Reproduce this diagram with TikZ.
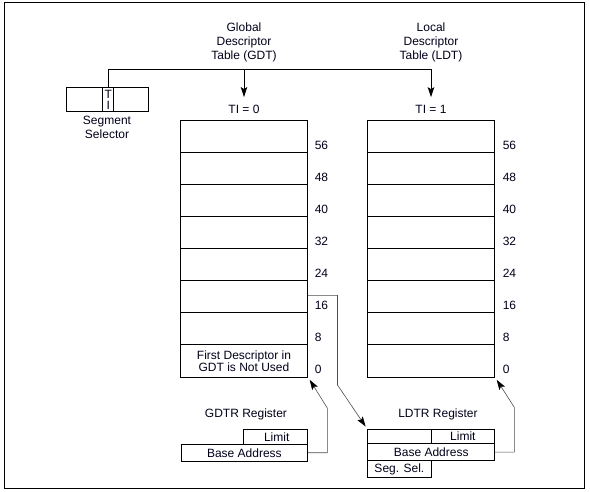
\documentclass[tikz,border=0pt]{standalone}
\usepackage{fontspec}
\setmainfont{Liberation Sans}
\usetikzlibrary{arrows.meta,positioning,calc}
\begin{document}
\begin{tikzpicture}[x=1pt,y=-1pt,
  every node/.style={font=\fontsize{12}{14}\selectfont, text=black!90!blue},
  box/.style={draw, line width=0.8pt, minimum width=127pt, minimum height=32pt, inner sep=0pt, anchor=north west},
  reg/.style={draw, line width=0.8pt, inner sep=0pt, anchor=north west},
  lbl/.style={anchor=west, inner sep=1pt},
  arr/.style={-{Stealth[length=10pt,width=6.5pt,inset=2pt,color=black]}},
  link/.style={line width=0.6pt, draw=black!70}
]
\useasboundingbox (0,0) rectangle (590,492);
\draw[line width=0.8pt] (4.3,2.7) rectangle (584,488.3);

% titles
\node[align=center] (gdttitle) at (244,42) {Global\\Descriptor\\Table (GDT)};
\node[align=center] (ldttitle) at (431,42) {Local\\Descriptor\\Table (LDT)};
\node[inner sep=7.5pt] (gdtlbl) at (244,109) {TI = 0};
\node[inner sep=7.5pt] (ldtlbl) at (431,109) {TI = 1};

% segment selector
\node[reg, minimum width=82pt, minimum height=24pt] (seg) at (66,87.3) {};
\node[reg, minimum width=11pt, minimum height=24pt, align=center, font=\fontsize{12}{11}\selectfont] (ti) at (102.3,87.3) {T\\I};
\node[align=center] (segname) at (107,127.5) {Segment\\Selector};

% bus
\coordinate (bus) at (107.7,69.3);
\draw[line width=0.8pt] (ti.north) -- (ti.north |- bus) -- (bus -| ldtlbl);
\draw[arr, line width=0.8pt] (bus -| gdtlbl) -- (gdtlbl.north);
\draw[arr, line width=0.8pt] (bus -| ldtlbl) -- (ldtlbl.north);

% tables
\foreach \k/\v in {0/0,1/8,2/16,3/24,4/32,5/40,6/48,7/56}{
  \node[box] (g\k) at (180.3, {344.5-32*\k}) {};
  \node[box] (l\k) at (367.3, {344.5-32*\k}) {};
  \node[lbl] (gn\k) at ([xshift=5.5pt,yshift=7.5pt]g\k.south east) {\v};
  \node[lbl] (ln\k) at ([xshift=6.5pt,yshift=7.5pt]l\k.south east) {\v};
}
\node[align=center, font=\fontsize{12}{12.3}\selectfont] (firstd) at (244,361) {First Descriptor in\\GDT is Not Used};

% GDTR register
\node (gdtrname) at (246,414) {GDTR Register};
\node[reg, minimum width=64pt, minimum height=14.7pt] (glimit) at (243.3,429.3) {};
\node at (glimit.center) [xshift=1pt] (glimitt) {Limit};
\node[reg, minimum width=126.6pt, minimum height=16.7pt] (gbase) at (180.7,444) {};
\node at (gbase.center) (gbaset) {Base Address};

% LDTR register
\node (ldtrname) at (438,414) {LDTR Register};
\node[reg, minimum width=63.4pt, minimum height=14.3pt] (lempty) at (367.3,429) {};
\node[reg, minimum width=63.6pt, minimum height=14.3pt] (llimit) at (430.7,429) {};
\node at (llimit.center) (llimitt) {Limit};
\node[reg, minimum width=127pt, minimum height=16.7pt] (lbase) at (367.3,443.3) {};
\node at (lbase.center) (lbaset) {Base Address};
\node[reg, minimum width=63.4pt, minimum height=17.3pt] (lseg) at (367.3,460) {};
\node at (lseg.center) (lsegt) {Seg. Sel.};

% connectors
\coordinate (gbend) at (327.3,408);
\draw[link, arr, shorten >=3pt] (gbase.east) -- (gbase.east -| gbend) -- (gbend) -- (g0.south east);
\coordinate (lbend) at (514.3,407.3);
\draw[link, arr, shorten >=3pt] (lbase.east) -- (lbase.east -| lbend) -- (lbend) -- (l0.south east);
\coordinate (xbend) at (337.5,385);
\draw[link, arr, shorten >=3pt] ([yshift=1.5pt]g2.east) -- ([yshift=1.5pt]g2.east -| xbend) -- (xbend) -- (lempty.north west);
\end{tikzpicture}
\end{document}
